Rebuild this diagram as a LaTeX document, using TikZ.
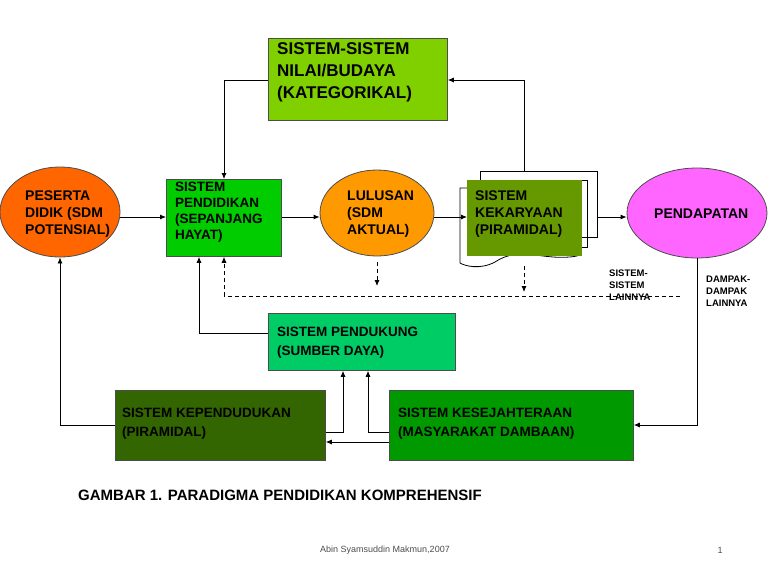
\documentclass[tikz,border=0pt]{standalone}
\usepackage{fontspec}
\setmainfont{Liberation Sans}
\usetikzlibrary{arrows.meta, shapes.geometric, calc}
\definecolor{pdlime}{HTML}{80D000}
\definecolor{pdgreen}{HTML}{00CC00}
\definecolor{pdorange}{HTML}{FF6600}
\definecolor{pdamber}{HTML}{FF9900}
\definecolor{pdolive}{HTML}{669900}
\definecolor{pdpink}{HTML}{FF66FF}
\definecolor{pdmint}{HTML}{00CC66}
\definecolor{pddark}{HTML}{336600}
\definecolor{pdmid}{HTML}{009900}
\begin{document}
\begin{tikzpicture}[x=1pt, y=-1pt,
  box/.style={rectangle, draw=black!70, line width=0.8pt, anchor=north west,
    inner sep=0pt},
  oval/.style={ellipse, draw=black!70, line width=0.8pt, inner sep=0pt},
  txt/.style={anchor=north west, align=left, font=\bfseries, inner sep=0pt},
  arr/.style={-{Latex[length=6pt,width=5pt]}, line width=0.8pt},
  dashline/.style={line width=0.8pt, dash pattern=on 4pt off 3pt}
]
  \useasboundingbox (0,0) rectangle (768,576);

  % upper row
  \node[box, fill=pdlime, minimum width=179pt, minimum height=82pt] (nilai) at (268,38) {};
  \node[txt, font=\bfseries\fontsize{17}{22}\selectfont] at (277,42) {SISTEM-SISTEM\\NILAI/BUDAYA\\(KATEGORIKAL)};

  \node[oval, fill=pdorange, minimum width=120pt, minimum height=90pt] (peserta) at (60,212) {};
  \node[txt, font=\bfseries\fontsize{14}{17}\selectfont] at (25,191) {PESERTA\\DIDIK (SDM\\POTENSIAL)};

  \node[box, fill=pdgreen, minimum width=115pt, minimum height=77pt] (didik) at (166,179) {};
  \node[txt, font=\bfseries\fontsize{13.5}{16}\selectfont] at (175,182) {SISTEM\\PENDIDIKAN\\(SEPANJANG\\HAYAT)};

  \node[oval, fill=pdamber, minimum width=114pt, minimum height=86pt] (lulus) at (377,213) {};
  \node[txt, font=\bfseries\fontsize{14}{17}\selectfont] at (347,191) {LULUSAN\\(SDM\\AKTUAL)};

  % stacked documents
  \draw[line width=0.8pt] (480,237) -- (597,237) -- (597,171) -- (480,171) -- (480,180);
  \draw[line width=0.8pt] (470,247) -- (587,247) -- (587,180) -- (470,180);
  \draw[line width=0.8pt, fill=white] (460,188) -- (577,188) -- (577,256)
    .. controls (545,262) and (520,245) .. (495,262)
    .. controls (480,270) and (465,266) .. (460,263) -- cycle;
  \node[box, fill=pdolive, draw=none, minimum width=115pt, minimum height=76pt] (karya) at (467,180) {};
  \node[txt, font=\bfseries\fontsize{14}{17}\selectfont] at (475,191) {SISTEM\\KEKARYAAN\\(PIRAMIDAL)};

  \node[oval, fill=pdpink, minimum width=140pt, minimum height=90pt] (dapat) at (697,213) {};
  \node[txt, font=\bfseries\fontsize{14}{17}\selectfont] at (654,209) {PENDAPATAN};

  \node[txt, font=\bfseries\fontsize{9.5}{12}\selectfont] (lain) at (609,270) {SISTEM-\\SISTEM\\LAINNYA};
  \node[txt, font=\bfseries\fontsize{9.5}{12}\selectfont] (dampak) at (706,276) {DAMPAK-\\DAMPAK\\LAINNYA};

  % lower row
  \node[box, fill=pdmint, minimum width=187pt, minimum height=57pt] (dukung) at (268,313) {};
  \node[txt, font=\bfseries\fontsize{13.5}{19}\selectfont] at (277,327) {SISTEM PENDUKUNG\\(SUMBER DAYA)};

  \node[box, fill=pddark, minimum width=210pt, minimum height=70pt] (duduk) at (115,390) {};
  \node[txt, font=\bfseries\fontsize{13.5}{19}\selectfont] at (122,408) {SISTEM KEPENDUDUKAN\\(PIRAMIDAL)};

  \node[box, fill=pdmid, minimum width=244pt, minimum height=70pt] (sejahtera) at (389,390) {};
  \node[txt, font=\bfseries\fontsize{13.5}{19}\selectfont] at (398,408) {SISTEM KESEJAHTERAAN\\(MASYARAKAT DAMBAAN)};

  % connectors
  \draw[arr] (120,217) -- (didik.west |- 0,217);
  \draw[arr] (didik.east |- 0,217) -- (lulus.west |- 0,217);
  \draw[arr] (lulus.east |- 0,217) -- (karya.west |- 0,217);
  \draw[arr] (597,217) -- (dapat.west |- 0,217);
  \draw[arr] (nilai.west |- 0,80) -- (224,80) -- (didik.north -| 224,0);
  \draw[arr] (524,171) -- (524,80) -- (nilai.east |- 0,80);
  \draw[arr, dashline] (377,262) -- (377,286);
  \draw[arr, dashline] (524,266) -- (524,292);
  \draw[dashline] (680,296) -- (224,296);
  \draw[arr, dashline] (224,296) -- (didik.south -| 224,0);
  \draw[arr] (dukung.west |- 0,333) -- (199,333) -- (didik.south -| 199,0);
  \draw[arr] (dapat.south) -- (697,425) -- (sejahtera.east |- 0,425);
  \draw[arr] (duduk.east |- 0,432) -- (343,432) -- (dukung.south -| 343,0);
  \draw[arr] (sejahtera.west |- 0,432) -- (368,432) -- (dukung.south -| 368,0);
  \draw[arr] (sejahtera.west |- 0,442) -- (duduk.east |- 0,442);
  \draw[arr] (duduk.west |- 0,425) -- (60,425) -- (peserta.south);

  % caption
  \node[txt, font=\bfseries\fontsize{15}{18}\selectfont] (judul) at (78,490) {GAMBAR 1. PARADIGMA PENDIDIKAN KOMPREHENSIF};
  \node[font=\fontsize{9}{11}\selectfont, text=black!70] (sumber) at (385,550) {Abin Syamsuddin Makmun,2007};
  \node[font=\fontsize{9}{11}\selectfont, text=black!70] (hal) at (720,550) {1};
\end{tikzpicture}
\end{document}
